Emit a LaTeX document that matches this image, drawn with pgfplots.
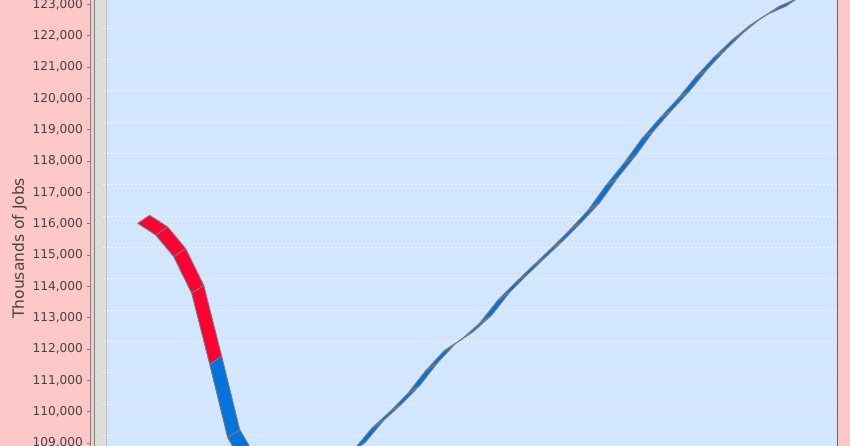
\documentclass[border=0pt]{standalone}
\usepackage{fontspec}
\setmainfont{DejaVu Sans}
\usepackage{pgfplots}
\pgfplotsset{compat=1.18}
\usepackage{pgfplotstable}
\usepgfplotslibrary{fillbetween}

\definecolor{bgpink}{RGB}{255,200,200}
\definecolor{plotblue}{RGB}{211,230,255}
\definecolor{wallgray}{RGB}{221,221,221}
\definecolor{ribred}{RGB}{255,0,51}
\definecolor{ribblue}{RGB}{0,115,220}
\definecolor{edgegray}{RGB}{125,125,125}
\definecolor{txt}{RGB}{68,68,68}

% private sector jobs, quarterly from 2008 Q1 (thousands)
\pgfplotstableread{
q v
0 116012
1 115639
2 114946
3 113778
4 111512
5 109169
6 108200
7 107600
8 107250
9 107550
10 107900
11 108300
12 108780
13 109469
14 109993
15 110577
16 111308
17 111930
18 112313
19 112824
20 113555
21 114130
22 114679
23 115224
24 115799
25 116415
26 117210
27 117922
28 118707
29 119365
30 119984
31 120686
32 121302
33 121854
34 122323
35 122687
36 122940
}\jobs

% 3d depth offset: 12pt right, 8pt up, in data units
\def\dx{0.6667}
\def\dy{255.4}

\begin{document}
\begin{tikzpicture}
\begin{axis}[
    set layers,
    clip=false,
    at={(90.5pt,0pt)}, anchor=south west,
    scale only axis, width=735pt, height=446pt,
    xmin=-2.622, xmax=38.211,
    ymin=108904, ymax=123140,
    axis x line=none, axis y line*=left,
    y axis line style={draw=edgegray, line width=0.9pt, -},
    ytick={109000,110000,...,123000},
    scaled y ticks=false,
    tick align=outside, major tick length=4pt,
    ytick style={draw=edgegray, line width=0.9pt},
    yticklabel style={font=\fontsize{12.2}{14}\selectfont, text=txt,
        /pgf/number format/.cd, fixed, 1000 sep={,}, assume math mode=true},
    ymajorgrids,
    grid style={draw=white!70!plotblue, line width=0.8pt,
        dash pattern=on 2pt off 2pt, xshift=12pt, yshift=7.5pt},
]
\begin{pgfonlayer}{axis background}
  \fill[bgpink] ([xshift=-90.5pt]rel axis cs:0,0) rectangle ([xshift=24.5pt]rel axis cs:1,1);
  \fill[plotblue] ([xshift=16pt]rel axis cs:0,0) rectangle ([xshift=12pt]rel axis cs:1,1);
  \fill[wallgray] ([xshift=4pt]rel axis cs:0,0) rectangle ([xshift=16pt]rel axis cs:0,1);
  \draw[edgegray, line width=1pt] ([xshift=4pt]rel axis cs:0,0) -- ([xshift=4pt]rel axis cs:0,1);
  \draw[black!25, line width=0.8pt] ([xshift=16pt]rel axis cs:0,0) -- ([xshift=16pt]rel axis cs:0,1);
  \draw[black!60, line width=1.3pt] ([xshift=12pt]rel axis cs:1,0) -- ([xshift=12pt]rel axis cs:1,1);
\end{pgfonlayer}

\addplot[draw=none, name path=fr1, skip coords between index={5}{37}]
  table[x=q, y=v] {\jobs};
\addplot[draw=none, name path=bk1, skip coords between index={5}{37}]
  table[x expr=\thisrow{q}+\dx, y expr=\thisrow{v}+\dy] {\jobs};
\addplot[fill=ribred, draw=none] fill between[of=fr1 and bk1];

\addplot[draw=none, name path=fr2, skip coords between index={0}{4}]
  table[x=q, y=v] {\jobs};
\addplot[draw=none, name path=bk2, skip coords between index={0}{4}]
  table[x expr=\thisrow{q}+\dx, y expr=\thisrow{v}+\dy] {\jobs};
\addplot[fill=ribblue, draw=none] fill between[of=fr2 and bk2];

\addplot[edgegray, line width=0.9pt] table[x=q, y=v] {\jobs};
\addplot[edgegray, line width=0.9pt]
  table[x expr=\thisrow{q}+\dx, y expr=\thisrow{v}+\dy] {\jobs};
\addplot[edgegray, line width=0.9pt, -, quiver={u=\dx, v=\dy}]
  table[x=q, y=v] {\jobs};

\node[rotate=90, text=txt, font=\fontsize{15.5}{18}\selectfont]
  at ([xshift=-71pt]rel axis cs:0,0.4433) {Thousands of Jobs};
\end{axis}
\pgfresetboundingbox
\path (0pt,0pt) rectangle (850pt,446pt);
\end{tikzpicture}
\end{document}
